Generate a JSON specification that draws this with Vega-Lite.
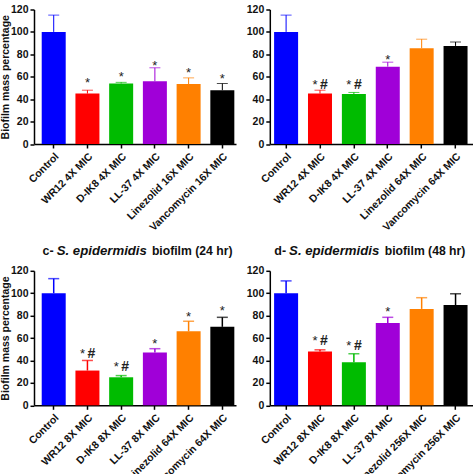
{"$schema":"https://vega.github.io/schema/vega-lite/v6.json","background":"white","padding":{"left":0,"top":4.5,"right":0,"bottom":0},
"datasets":{
"a":[{"label":"Control","group":"Control","value":100,"upper":115},{"label":"WR12 4X MIC","group":"WR12","value":45,"upper":48,"sig":"*","sigY":54},{"label":"D-IK8 4X MIC","group":"D-IK8","value":54,"upper":55,"sig":"*","sigY":60},{"label":"LL-37 4X MIC","group":"LL-37","value":56,"upper":68,"sig":"*","sigY":70},{"label":"Linezolid 16X MIC","group":"Linezolid","value":53.5,"upper":59,"sig":"*","sigY":63},{"label":"Vancomycin 16X MIC","group":"Vancomycin","value":48,"upper":54,"sig":"*","sigY":58}],
"b":[{"label":"Control","group":"Control","value":100,"upper":115},{"label":"WR12 4X MIC","group":"WR12","value":45,"upper":48,"sig":"*#","sigY":53},{"label":"D-IK8 4X MIC","group":"D-IK8","value":44.5,"upper":46,"sig":"*#","sigY":53},{"label":"LL-37 4X MIC","group":"LL-37","value":69,"upper":73,"sig":"*","sigY":75},{"label":"Linezolid 64X MIC","group":"Linezolid","value":85.5,"upper":93.5},{"label":"Vancomycin 64X MIC","group":"Vancomycin","value":87.5,"upper":91}],
"c":[{"label":"Control","group":"Control","value":100,"upper":113},{"label":"WR12 8X MIC","group":"WR12","value":31,"upper":40,"sig":"*#","sigY":46},{"label":"D-IK8 8X MIC","group":"D-IK8","value":25,"upper":26.5,"sig":"*#","sigY":34},{"label":"LL-37 8X MIC","group":"LL-37","value":47,"upper":50.5,"sig":"*","sigY":55},{"label":"Linezolid 64X MIC","group":"Linezolid","value":66,"upper":75,"sig":"*","sigY":79},{"label":"Vancomycin 64X MIC","group":"Vancomycin","value":70,"upper":78.5,"sig":"*","sigY":84}],
"d":[{"label":"Control","group":"Control","value":100,"upper":111},{"label":"WR12 8X MIC","group":"WR12","value":48,"upper":49.5,"sig":"*#","sigY":57},{"label":"D-IK8 8X MIC","group":"D-IK8","value":38.5,"upper":46,"sig":"*#","sigY":53},{"label":"LL-37 8X MIC","group":"LL-37","value":73.5,"upper":78.5,"sig":"*","sigY":83},{"label":"Linezolid 256X MIC","group":"Linezolid","value":86,"upper":96},{"label":"Vancomycin 256X MIC","group":"Vancomycin","value":89.5,"upper":99.5}]
},
"config":{"view":{"stroke":null},"font":"Liberation Sans","axisY":{"tickCount":7,"labelOverlap":false},"axis":{"grid":false,"domainColor":"#000","domainWidth":1.5,"tickColor":"#000","tickWidth":1.5,"tickSize":4,"labelColor":"#111","titleColor":"#111","labelFont":"Liberation Sans","titleFont":"Liberation Sans","labelFontWeight":"bold","titleFontWeight":"bold"}},
"spacing":261.3,"bounds":"flush",
"vconcat":[
{"hconcat":[
{"width":202,"height":134.5,"data":{"name":"a"},"layer":[
{"mark":{"type":"bar","width":24},"encoding":{"x":{"field":"label","type":"nominal","sort":null,"scale":{"paddingInner":0.29,"paddingOuter":0.14,"align":0.82},"axis":{"title":null,"labelAngle":-45,"labelFontSize":10.5,"labelLimit":200,"labelPadding":3}},"y":{"field":"value","type":"quantitative","scale":{"domain":[0,120]},"axis":{"values":[0,20,40,60,80,100,120],"tickCount":7,"labelOverlap":false,"title":"Biofilm mass percentage","labelFontSize":10.5,"titleFontSize":10.5,"titlePadding":0}},"color":{"field":"group","type":"nominal","legend":null,"scale":{"domain":["Control","WR12","D-IK8","LL-37","Linezolid","Vancomycin"],"range":["#0000ff","#ff0000","#00bb00","#a000d8","#ff8000","#000000"]}}}},
{"mark":{"type":"rule","strokeWidth":1},"encoding":{"x":{"field":"label","type":"nominal","sort":null},"y":{"field":"value","type":"quantitative","axis":{"values":[0,20,40,60,80,100,120],"tickCount":7,"labelOverlap":false,"title":"Biofilm mass percentage","labelFontSize":10.5,"titleFontSize":10.5,"titlePadding":0}},"y2":{"field":"upper"},"color":{"field":"group","type":"nominal","legend":null}}},
{"mark":{"type":"tick","size":11,"thickness":1},"encoding":{"x":{"field":"label","type":"nominal","sort":null},"y":{"field":"upper","type":"quantitative","axis":{"values":[0,20,40,60,80,100,120],"tickCount":7,"labelOverlap":false,"title":"Biofilm mass percentage","labelFontSize":10.5,"titleFontSize":10.5,"titlePadding":0}},"color":{"field":"group","type":"nominal","legend":null}}},
{"transform":[{"filter":"datum.sig==='*'"}],"mark":{"type":"text","text":"*","fontSize":13,"color":"#222"},"encoding":{"x":{"field":"label","type":"nominal","sort":null},"y":{"field":"sigY","type":"quantitative","axis":{"values":[0,20,40,60,80,100,120],"tickCount":7,"labelOverlap":false,"title":"Biofilm mass percentage","labelFontSize":10.5,"titleFontSize":10.5,"titlePadding":0}}}}
]},
{"width":203,"height":134.5,"data":{"name":"b"},"layer":[
{"mark":{"type":"bar","width":24},"encoding":{"x":{"field":"label","type":"nominal","sort":null,"scale":{"paddingInner":0.29,"paddingOuter":0.14,"align":0.45},"axis":{"title":null,"labelAngle":-45,"labelFontSize":10.5,"labelLimit":200,"labelPadding":3}},"y":{"field":"value","type":"quantitative","scale":{"domain":[0,120]},"axis":{"values":[0,20,40,60,80,100,120],"tickCount":7,"labelOverlap":false,"title":null,"labelFontSize":10.5}},"color":{"field":"group","type":"nominal","legend":null,"scale":{"domain":["Control","WR12","D-IK8","LL-37","Linezolid","Vancomycin"],"range":["#0000ff","#ff0000","#00bb00","#a000d8","#ff8000","#000000"]}}}},
{"mark":{"type":"rule","strokeWidth":1},"encoding":{"x":{"field":"label","type":"nominal","sort":null},"y":{"field":"value","type":"quantitative","axis":{"values":[0,20,40,60,80,100,120],"tickCount":7,"labelOverlap":false,"title":null,"labelFontSize":10.5}},"y2":{"field":"upper"},"color":{"field":"group","type":"nominal","legend":null}}},
{"mark":{"type":"tick","size":11,"thickness":1},"encoding":{"x":{"field":"label","type":"nominal","sort":null},"y":{"field":"upper","type":"quantitative","axis":{"values":[0,20,40,60,80,100,120],"tickCount":7,"labelOverlap":false,"title":null,"labelFontSize":10.5}},"color":{"field":"group","type":"nominal","legend":null}}},
{"transform":[{"filter":"datum.sig==='*'"}],"mark":{"type":"text","text":"*","fontSize":13,"color":"#222"},"encoding":{"x":{"field":"label","type":"nominal","sort":null},"y":{"field":"sigY","type":"quantitative","axis":{"values":[0,20,40,60,80,100,120],"tickCount":7,"labelOverlap":false,"title":null,"labelFontSize":10.5}}}},
{"transform":[{"filter":"datum.sig==='*#'"}],"mark":{"type":"text","text":"*","fontSize":13,"color":"#222","dx":-5},"encoding":{"x":{"field":"label","type":"nominal","sort":null},"y":{"field":"sigY","type":"quantitative","axis":{"values":[0,20,40,60,80,100,120],"tickCount":7,"labelOverlap":false,"title":null,"labelFontSize":10.5}}}},
{"transform":[{"filter":"datum.sig==='*#'"}],"mark":{"type":"text","text":"#","fontSize":14,"fontWeight":"bold","color":"#222","dx":4},"encoding":{"x":{"field":"label","type":"nominal","sort":null},"y":{"field":"sigY","type":"quantitative","axis":{"values":[0,20,40,60,80,100,120],"tickCount":7,"labelOverlap":false,"title":null,"labelFontSize":10.5}}}}
]}
],"spacing":33.8,"bounds":"flush"},
{"hconcat":[
{"width":202,"height":134.5,"data":{"name":"c"},"layer":[
{"mark":{"type":"bar","width":24},"encoding":{"x":{"field":"label","type":"nominal","sort":null,"scale":{"paddingInner":0.29,"paddingOuter":0.14,"align":0.82},"axis":{"title":null,"labelAngle":-45,"labelFontSize":10.5,"labelLimit":200,"labelPadding":3}},"y":{"field":"value","type":"quantitative","scale":{"domain":[0,120]},"axis":{"values":[0,20,40,60,80,100,120],"tickCount":7,"labelOverlap":false,"title":"Biofilm mass percentage","labelFontSize":10.5,"titleFontSize":10.5,"titlePadding":0}},"color":{"field":"group","type":"nominal","legend":null,"scale":{"domain":["Control","WR12","D-IK8","LL-37","Linezolid","Vancomycin"],"range":["#0000ff","#ff0000","#00bb00","#a000d8","#ff8000","#000000"]}}}},
{"mark":{"type":"rule","strokeWidth":1.5},"encoding":{"x":{"field":"label","type":"nominal","sort":null},"y":{"field":"value","type":"quantitative","axis":{"values":[0,20,40,60,80,100,120],"tickCount":7,"labelOverlap":false,"title":"Biofilm mass percentage","labelFontSize":10.5,"titleFontSize":10.5,"titlePadding":0}},"y2":{"field":"upper"},"color":{"field":"group","type":"nominal","legend":null}}},
{"mark":{"type":"tick","size":11,"thickness":1.5},"encoding":{"x":{"field":"label","type":"nominal","sort":null},"y":{"field":"upper","type":"quantitative","axis":{"values":[0,20,40,60,80,100,120],"tickCount":7,"labelOverlap":false,"title":"Biofilm mass percentage","labelFontSize":10.5,"titleFontSize":10.5,"titlePadding":0}},"color":{"field":"group","type":"nominal","legend":null}}},
{"transform":[{"filter":"datum.sig==='*'"}],"mark":{"type":"text","text":"*","fontSize":13,"color":"#222"},"encoding":{"x":{"field":"label","type":"nominal","sort":null},"y":{"field":"sigY","type":"quantitative","axis":{"values":[0,20,40,60,80,100,120],"tickCount":7,"labelOverlap":false,"title":"Biofilm mass percentage","labelFontSize":10.5,"titleFontSize":10.5,"titlePadding":0}}}},
{"transform":[{"filter":"datum.sig==='*#'"}],"mark":{"type":"text","text":"*","fontSize":13,"color":"#222","dx":-5},"encoding":{"x":{"field":"label","type":"nominal","sort":null},"y":{"field":"sigY","type":"quantitative","axis":{"values":[0,20,40,60,80,100,120],"tickCount":7,"labelOverlap":false,"title":"Biofilm mass percentage","labelFontSize":10.5,"titleFontSize":10.5,"titlePadding":0}}}},
{"transform":[{"filter":"datum.sig==='*#'"}],"mark":{"type":"text","text":"#","fontSize":14,"fontWeight":"bold","color":"#222","dx":4},"encoding":{"x":{"field":"label","type":"nominal","sort":null},"y":{"field":"sigY","type":"quantitative","axis":{"values":[0,20,40,60,80,100,120],"tickCount":7,"labelOverlap":false,"title":"Biofilm mass percentage","labelFontSize":10.5,"titleFontSize":10.5,"titlePadding":0}}}},
{"data":{"values":[{"label":"Control","t":"c-","y":138}]},"mark":{"type":"text","align":"right","fontSize":12.5,"fontWeight":"bold","color":"#111"},"encoding":{"x":{"field":"label","type":"nominal","sort":null},"y":{"field":"y","type":"quantitative","axis":{"values":[0,20,40,60,80,100,120],"tickCount":7,"labelOverlap":false,"title":"Biofilm mass percentage","labelFontSize":10.5,"titleFontSize":10.5,"titlePadding":0}},"text":{"field":"t"}}},
{"data":{"values":[{"label":"Control","t":"S. epidermidis","y":138}]},"mark":{"type":"text","align":"left","dx":3,"fontSize":13.2,"fontWeight":"bold","fontStyle":"italic","color":"#111"},"encoding":{"x":{"field":"label","type":"nominal","sort":null},"y":{"field":"y","type":"quantitative","axis":{"values":[0,20,40,60,80,100,120],"tickCount":7,"labelOverlap":false,"title":"Biofilm mass percentage","labelFontSize":10.5,"titleFontSize":10.5,"titlePadding":0}},"text":{"field":"t"}}},
{"data":{"values":[{"label":"LL-37 8X MIC","t":"biofilm (24 hr)","y":138}]},"mark":{"type":"text","align":"left","dx":-3,"fontSize":12.2,"fontWeight":"bold","color":"#111"},"encoding":{"x":{"field":"label","type":"nominal","sort":null},"y":{"field":"y","type":"quantitative","axis":{"values":[0,20,40,60,80,100,120],"tickCount":7,"labelOverlap":false,"title":"Biofilm mass percentage","labelFontSize":10.5,"titleFontSize":10.5,"titlePadding":0}},"text":{"field":"t"}}}
]},
{"width":203,"height":134.5,"data":{"name":"d"},"layer":[
{"mark":{"type":"bar","width":24},"encoding":{"x":{"field":"label","type":"nominal","sort":null,"scale":{"paddingInner":0.29,"paddingOuter":0.14,"align":0.45},"axis":{"title":null,"labelAngle":-45,"labelFontSize":10.5,"labelLimit":200,"labelPadding":3}},"y":{"field":"value","type":"quantitative","scale":{"domain":[0,120]},"axis":{"values":[0,20,40,60,80,100,120],"tickCount":7,"labelOverlap":false,"title":null,"labelFontSize":10.5}},"color":{"field":"group","type":"nominal","legend":null,"scale":{"domain":["Control","WR12","D-IK8","LL-37","Linezolid","Vancomycin"],"range":["#0000ff","#ff0000","#00bb00","#a000d8","#ff8000","#000000"]}}}},
{"mark":{"type":"rule","strokeWidth":1.5},"encoding":{"x":{"field":"label","type":"nominal","sort":null},"y":{"field":"value","type":"quantitative","axis":{"values":[0,20,40,60,80,100,120],"tickCount":7,"labelOverlap":false,"title":null,"labelFontSize":10.5}},"y2":{"field":"upper"},"color":{"field":"group","type":"nominal","legend":null}}},
{"mark":{"type":"tick","size":11,"thickness":1.5},"encoding":{"x":{"field":"label","type":"nominal","sort":null},"y":{"field":"upper","type":"quantitative","axis":{"values":[0,20,40,60,80,100,120],"tickCount":7,"labelOverlap":false,"title":null,"labelFontSize":10.5}},"color":{"field":"group","type":"nominal","legend":null}}},
{"transform":[{"filter":"datum.sig==='*'"}],"mark":{"type":"text","text":"*","fontSize":13,"color":"#222"},"encoding":{"x":{"field":"label","type":"nominal","sort":null},"y":{"field":"sigY","type":"quantitative","axis":{"values":[0,20,40,60,80,100,120],"tickCount":7,"labelOverlap":false,"title":null,"labelFontSize":10.5}}}},
{"transform":[{"filter":"datum.sig==='*#'"}],"mark":{"type":"text","text":"*","fontSize":13,"color":"#222","dx":-5},"encoding":{"x":{"field":"label","type":"nominal","sort":null},"y":{"field":"sigY","type":"quantitative","axis":{"values":[0,20,40,60,80,100,120],"tickCount":7,"labelOverlap":false,"title":null,"labelFontSize":10.5}}}},
{"transform":[{"filter":"datum.sig==='*#'"}],"mark":{"type":"text","text":"#","fontSize":14,"fontWeight":"bold","color":"#222","dx":4},"encoding":{"x":{"field":"label","type":"nominal","sort":null},"y":{"field":"sigY","type":"quantitative","axis":{"values":[0,20,40,60,80,100,120],"tickCount":7,"labelOverlap":false,"title":null,"labelFontSize":10.5}}}},
{"data":{"values":[{"label":"Control","t":"d-","y":138}]},"mark":{"type":"text","align":"right","fontSize":12.5,"fontWeight":"bold","color":"#111"},"encoding":{"x":{"field":"label","type":"nominal","sort":null},"y":{"field":"y","type":"quantitative","axis":{"values":[0,20,40,60,80,100,120],"tickCount":7,"labelOverlap":false,"title":null,"labelFontSize":10.5}},"text":{"field":"t"}}},
{"data":{"values":[{"label":"Control","t":"S. epidermidis","y":138}]},"mark":{"type":"text","align":"left","dx":3,"fontSize":13.2,"fontWeight":"bold","fontStyle":"italic","color":"#111"},"encoding":{"x":{"field":"label","type":"nominal","sort":null},"y":{"field":"y","type":"quantitative","axis":{"values":[0,20,40,60,80,100,120],"tickCount":7,"labelOverlap":false,"title":null,"labelFontSize":10.5}},"text":{"field":"t"}}},
{"data":{"values":[{"label":"LL-37 8X MIC","t":"biofilm (48 hr)","y":138}]},"mark":{"type":"text","align":"left","dx":-3,"fontSize":12.2,"fontWeight":"bold","color":"#111"},"encoding":{"x":{"field":"label","type":"nominal","sort":null},"y":{"field":"y","type":"quantitative","axis":{"values":[0,20,40,60,80,100,120],"tickCount":7,"labelOverlap":false,"title":null,"labelFontSize":10.5}},"text":{"field":"t"}}}
]}
],"spacing":33.8,"bounds":"flush"}
]}
